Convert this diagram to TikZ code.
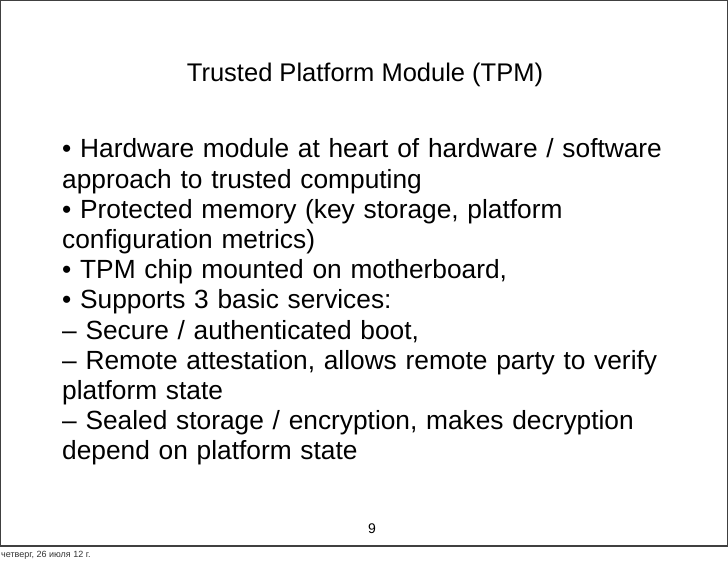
\documentclass[tikz,border=0pt]{standalone}
\usepackage{fontspec}
\setmainfont{Liberation Sans}
\begin{document}
\begin{tikzpicture}[x=1pt,y=-1pt,
  body/.style={anchor=base west,inner sep=0pt,font=\fontsize{26.3}{30.2}\selectfont,align=left,text width=660pt}]
\useasboundingbox (0,0) rectangle (728,561);
\draw[line width=1.2pt,color=black!75] (0.6,0.6) rectangle (727.4,546);
\node[anchor=base,inner sep=0pt,font=\fontsize{25.5}{28}\selectfont] (title) at (365,82) {Trusted Platform Module (TPM)};
\node[body] (b) at (62,158) {\raggedright
• Hardware module at heart of hardware / software\\
approach to trusted computing\\
• Protected memory (key storage, platform\\
configuration metrics)\\
• TPM chip mounted on motherboard,\\
• Supports 3 basic services:\\
– Secure / authenticated boot,\\
– Remote attestation, allows remote party to verify\\
platform state\\
– Sealed storage / encryption, makes decryption\\
depend on platform state};
\node[anchor=base,inner sep=0pt,font=\fontsize{14}{16}\selectfont] (num) at (372,533) {9};
\node[anchor=base west,inner sep=0pt,font=\fontsize{9}{10}\selectfont,color=black!80] (foot) at (1,557) {четверг, 26 июля 12 г.};
\end{tikzpicture}
\end{document}
